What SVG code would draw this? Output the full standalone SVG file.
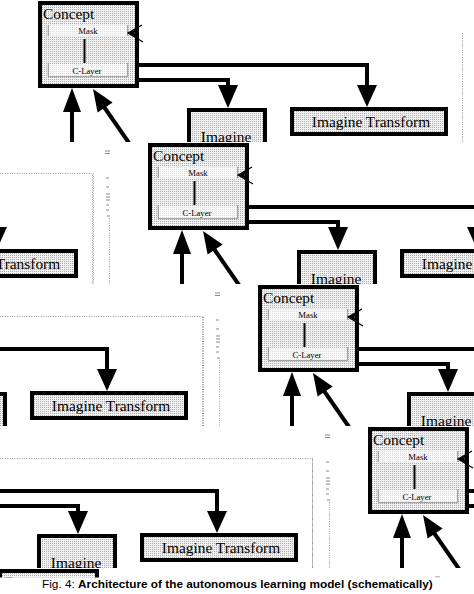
<svg xmlns="http://www.w3.org/2000/svg" width="474" height="594" viewBox="0 0 474 594">
<style>
.box{fill:url(#dots);stroke:#000;stroke-width:4}
.big{font-family:"Liberation Serif","Times New Roman",serif;font-size:15.4px;fill:#000}
.small{font-family:"Liberation Serif","Times New Roman",serif;font-size:8.7px;fill:#000}
.wire{fill:none;stroke:#000;stroke-width:4;stroke-linejoin:miter}
.head{fill:#000}
.dot{fill:none;stroke:#9a9a9a;stroke-width:1;stroke-dasharray:1 1.4}
.tick{stroke:#888;stroke-width:1}
.thin{fill:none;stroke:#7a7a7a;stroke-width:0.8}
.cell{fill:#fff;fill-opacity:0.6}
.cap{font-family:"Liberation Sans",Arial,sans-serif;font-size:11.8px;fill:#000}
</style>
<defs>
<pattern id="dots" width="2" height="2" patternUnits="userSpaceOnUse">
<rect width="2" height="2" fill="#f2f2f2"/>
<rect width="1" height="1" fill="#acacac"/>
</pattern>
<clipPath id="c0"><rect x="0" y="0" width="474" height="142"/></clipPath>
<clipPath id="c1"><rect x="0" y="142" width="474" height="142"/></clipPath>
<clipPath id="c2"><rect x="0" y="284" width="474" height="142"/></clipPath>
<clipPath id="c3"><rect x="0" y="426" width="474" height="142"/></clipPath>
<clipPath id="c4"><rect x="0" y="568" width="474" height="26"/></clipPath>
<g id="tile">
<g id="marks">
<path class="tick" d="M-43,8H-38M-43,10.5H-38M-42,35H-39M-42,44H-39M-42,51H-38M-42,54H-38M-42,57H-38M-42,62H-39M-42,67H-39M-41,73H-38"/>
<path class="dot" d="M-38.5,75V141M424.5,32V141"/>
</g>
<g id="connectors">
<path class="wire" d="M99,64H329V86"/>
<polygon class="head" points="319,84 339,84 329,106"/>
<path class="wire" d="M99,79H190V86"/>
<polygon class="head" points="180,84 200,84 190,107"/>
<path class="wire" d="M34,142V108"/>
<polygon class="head" points="34,87 25,111 43,111"/>
<path class="wire" d="M91,142L64,103"/>
<polygon class="head" points="55,88 59.6,111.4 74.6,101.4"/>
</g>
<g id="concept">
<rect class="box" x="2" y="2" width="97" height="83"/>
<rect class="cell" x="10.3" y="24" width="79.4" height="11"/>
<rect class="cell" x="10.3" y="63" width="79.4" height="12.7"/>
<path class="thin" d="M10.3,24V35M89.7,24V35M10.3,62V75.7H89.7V62"/>
<text class="big" x="5" y="18">Concept</text>
<text class="small" x="50" y="33" text-anchor="middle">Mask</text>
<line x1="46.5" y1="38" x2="46.5" y2="62" stroke="#000" stroke-width="2"/>
<text class="small" x="49" y="72.5" text-anchor="middle">C-Layer</text>
<path d="M104,24L90,32L105,41" fill="none" stroke="#000" stroke-width="1.2"/>
<polygon class="head" points="90,32 98.5,27.5 96.5,32 98.5,36.5"/>
</g>
<g id="imagine">
<rect class="box" x="151" y="109" width="76" height="60"/>
<text class="big" x="188" y="141" text-anchor="middle">Imagine</text>
</g>
<g id="imagine-transform">
<rect class="box" x="254" y="108" width="154" height="25"/>
<text class="big" x="333" y="126" text-anchor="middle">Imagine Transform</text>
</g>
</g>
</defs>
<rect width="474" height="594" fill="#fff"/>
<g id="frames">
<path class="dot" d="M0,173.5H93.5V284M0,316.5H203.5V426M0,458.5H312.5V568"/>
</g>
<g id="row0" clip-path="url(#c0)"><use href="#tile" x="38" y="1"/><use href="#tile" x="-442" y="1"/></g>
<g id="row1" clip-path="url(#c1)"><use href="#tile" x="148" y="143"/><use href="#tile" x="-332" y="143"/></g>
<g id="row2" clip-path="url(#c2)"><use href="#tile" x="258" y="285"/><use href="#tile" x="-222" y="285"/></g>
<g id="row3" clip-path="url(#c3)"><use href="#tile" x="368" y="427"/><use href="#tile" x="-112" y="427"/></g>
<g id="row4" clip-path="url(#c4)"><use href="#tile" x="478" y="569"/><use href="#tile" x="-2" y="569"/></g>
<g id="caption">
<rect x="0" y="577.5" width="474" height="16.5" fill="#fff"/>
<text class="cap" x="42" y="587.5">Fig. 4: <tspan font-weight="bold">Architecture of the autonomous learning model (schematically)</tspan></text>
</g>
</svg>
